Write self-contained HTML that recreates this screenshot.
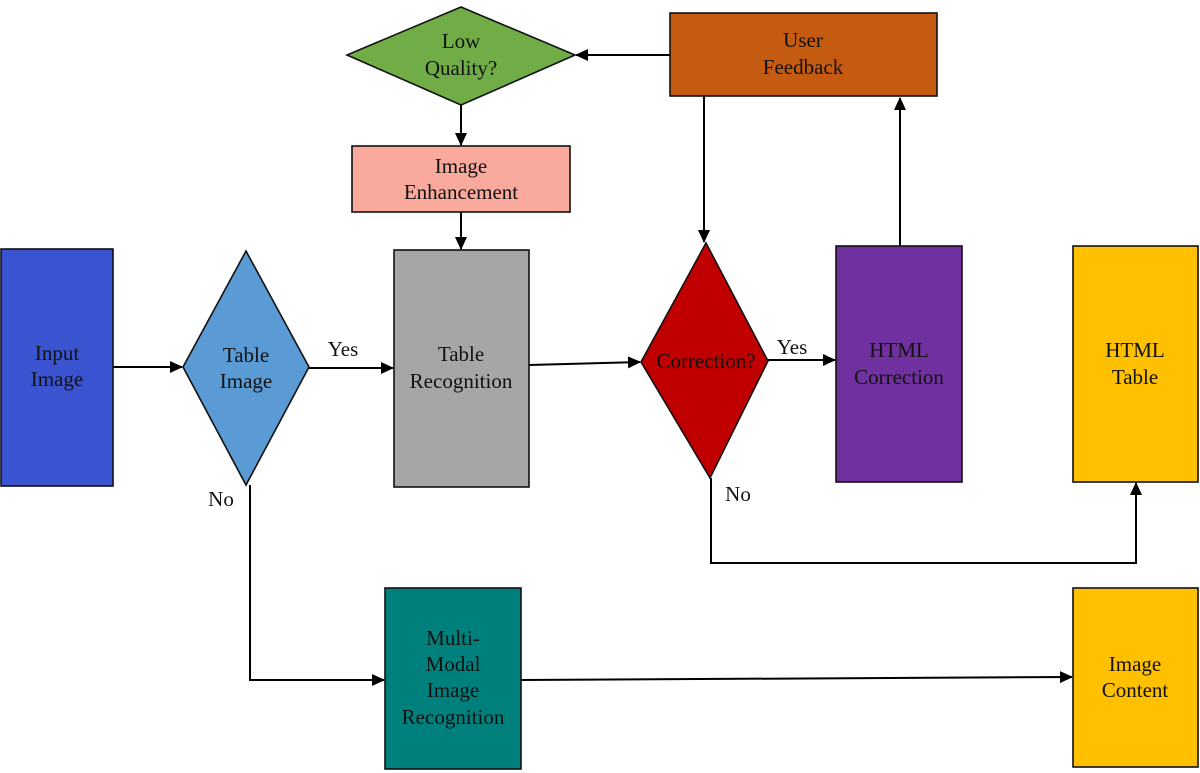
<!DOCTYPE html>
<html><head><meta charset="utf-8"><style>
html,body{margin:0;padding:0;background:#fff;}
svg{display:block;}
text{font-family:"Liberation Serif",serif;font-size:21px;fill:#111;text-anchor:middle;}
</style></head><body>
<svg width="1200" height="773" viewBox="0 0 1200 773" xmlns="http://www.w3.org/2000/svg">
<defs>
<marker id="a" markerWidth="13" markerHeight="12" refX="12" refY="6" orient="auto" markerUnits="userSpaceOnUse">
<path d="M0,0 L13,6 L0,12 z" fill="#000"/></marker>
</defs>
<g stroke="#111" stroke-width="1.6">
<rect x="1" y="249" width="112" height="237" fill="#3a53d0"/>
<polygon points="246,251 309,367 246,485 183,367" fill="#5b9bd5"/>
<rect x="394" y="250" width="135" height="237" fill="#a6a6a6"/>
<rect x="352" y="146" width="218" height="66" fill="#f9aa9c"/>
<polygon points="461,7 575,55 461,105 347,55" fill="#70ad47"/>
<rect x="670" y="13" width="267" height="83" fill="#c55a11"/>
<polygon points="706,243 768,361 710,478 641,362" fill="#c00000"/>
<rect x="836" y="246" width="126" height="236" fill="#7030a0"/>
<rect x="1073" y="246" width="125" height="236" fill="#ffc000"/>
<rect x="385" y="588" width="136" height="181" fill="#00807c"/>
<rect x="1073" y="588" width="125" height="179" fill="#ffc000"/>
</g>
<g stroke="#000" stroke-width="2" fill="none">
<line x1="113" y1="367" x2="182" y2="367" marker-end="url(#a)"/>
<line x1="309" y1="368" x2="393" y2="368" marker-end="url(#a)"/>
<line x1="529" y1="365" x2="640" y2="362" marker-end="url(#a)"/>
<line x1="768" y1="360" x2="835" y2="360" marker-end="url(#a)"/>
<line x1="900" y1="246" x2="900" y2="98" marker-end="url(#a)"/>
<line x1="670" y1="55" x2="576" y2="55" marker-end="url(#a)"/>
<line x1="461" y1="105" x2="461" y2="145" marker-end="url(#a)"/>
<line x1="461" y1="212" x2="461" y2="249" marker-end="url(#a)"/>
<line x1="704" y1="96" x2="704" y2="242" marker-end="url(#a)"/>
<polyline points="711,478 711,563 1136,563 1136,483" marker-end="url(#a)"/>
<polyline points="250,485 250,680 384,680" marker-end="url(#a)"/>
<line x1="521" y1="680" x2="1072" y2="677" marker-end="url(#a)"/>
</g>
<text x="57" y="360">Input</text><text x="57" y="386">Image</text>
<text x="246" y="362">Table</text><text x="246" y="388">Image</text>
<text x="343" y="356">Yes</text>
<text x="221" y="506">No</text>
<text x="461" y="361">Table</text><text x="461" y="388">Recognition</text>
<text x="461" y="173">Image</text><text x="461" y="199">Enhancement</text>
<text x="461" y="48">Low</text><text x="461" y="75">Quality?</text>
<text x="803" y="47">User</text><text x="803" y="74">Feedback</text>
<text x="706" y="368">Correction?</text>
<text x="792" y="354">Yes</text>
<text x="738" y="501">No</text>
<text x="899" y="357">HTML</text><text x="899" y="384">Correction</text>
<text x="1135" y="357">HTML</text><text x="1135" y="384">Table</text>
<text x="453" y="645">Multi-</text><text x="453" y="671">Modal</text><text x="453" y="697">Image</text><text x="453" y="724">Recognition</text>
<text x="1135" y="671">Image</text><text x="1135" y="697">Content</text>
</svg>
</body></html>
